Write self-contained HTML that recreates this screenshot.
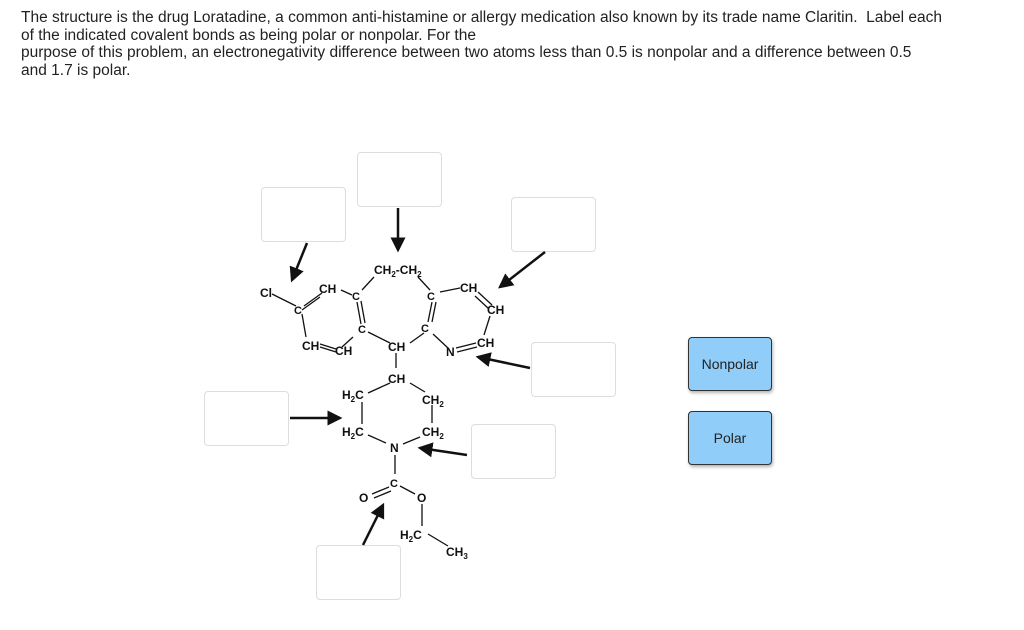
<!DOCTYPE html>
<html><head><meta charset="utf-8"><style>
body{margin:0;width:1024px;height:630px;background:#fff;position:relative;overflow:hidden;font-family:"Liberation Sans",sans-serif;}
.t{position:absolute;left:21px;top:9px;font-size:15.5px;line-height:17.5px;color:#222;white-space:nowrap;}
.b{position:absolute;width:83px;height:53px;border:1px solid #ddd;border-radius:4px;background:#fff;}
.btn{position:absolute;left:688px;width:82px;height:52px;border:1px solid #333;border-radius:4px;background:#90cdf9;font-size:14px;color:#222;display:flex;align-items:center;justify-content:center;box-shadow:1px 2px 3px rgba(0,0,0,.3);}
svg{position:absolute;left:0;top:0}
</style></head><body>
<div class="t">The structure is the drug Loratadine, a common anti-histamine or allergy medication also known by its trade name Claritin.&nbsp; Label each<br>of the indicated covalent bonds as being polar or nonpolar. For the<br>purpose of this problem, an electronegativity difference between two atoms less than 0.5 is nonpolar and a difference between 0.5<br>and 1.7 is polar.</div>
<div class="b" style="left:261px;top:187px"></div>
<div class="b" style="left:357px;top:152px"></div>
<div class="b" style="left:511px;top:197px"></div>
<div class="b" style="left:531px;top:342px"></div>
<div class="b" style="left:204px;top:391px"></div>
<div class="b" style="left:471px;top:424px"></div>
<div class="b" style="left:316px;top:545px"></div>
<div class="btn" style="top:337px">Nonpolar</div>
<div class="btn" style="top:411px">Polar</div>
<svg width="1024" height="630" font-family="Liberation Sans,sans-serif" font-size="12" font-weight="bold">
<defs><marker id="a" markerWidth="6" markerHeight="6" refX="5" refY="3" orient="auto"><path d="M0,0L6,3L0,6z" fill="#111"/></marker></defs>
<g stroke="#111" stroke-width="2.5" marker-end="url(#a)">
<line x1="307" y1="243" x2="292" y2="280"/>
<line x1="398" y1="208" x2="398" y2="250"/>
<line x1="545" y1="252" x2="500" y2="287"/>
<line x1="530" y1="368" x2="478" y2="357"/>
<line x1="290" y1="418" x2="340" y2="418"/>
<line x1="467" y1="455" x2="420" y2="448"/>
<line x1="363" y1="545" x2="383" y2="505"/>
</g>
<g stroke="#111" stroke-width="1.3" fill="none">
<line x1="272" y1="294" x2="296" y2="306"/>
<line x1="304" y1="306" x2="322" y2="293"/><line x1="302" y1="310" x2="320" y2="297"/>
<line x1="341" y1="290" x2="352" y2="295"/>
<line x1="362" y1="290" x2="374" y2="277"/>
<line x1="418" y1="277" x2="430" y2="290"/>
<line x1="440" y1="292" x2="460" y2="288"/>
<line x1="478" y1="292" x2="492" y2="305"/><line x1="475" y1="296" x2="489" y2="309"/>
<line x1="490" y1="316" x2="484" y2="335"/>
<line x1="357" y1="302" x2="361" y2="324"/><line x1="361" y1="301" x2="365" y2="323"/>
<line x1="432" y1="302" x2="428" y2="322"/><line x1="436" y1="302" x2="432" y2="322"/>
<line x1="302" y1="314" x2="306" y2="337"/>
<line x1="368" y1="332" x2="390" y2="343"/>
<line x1="410" y1="343" x2="424" y2="333"/>
<line x1="433" y1="334" x2="448" y2="348"/>
<line x1="456" y1="348" x2="476" y2="343"/><line x1="457" y1="352" x2="477" y2="347"/>
<line x1="353" y1="337" x2="342" y2="347"/>
<line x1="320" y1="344" x2="336" y2="349"/><line x1="320" y1="347" x2="336" y2="352"/>
<line x1="396" y1="353" x2="396" y2="368"/>
<line x1="390" y1="383" x2="368" y2="393"/>
<line x1="410" y1="383" x2="425" y2="392"/>
<line x1="362" y1="402" x2="362" y2="424"/>
<line x1="432" y1="405" x2="432" y2="423"/>
<line x1="368" y1="435" x2="386" y2="443"/>
<line x1="420" y1="437" x2="403" y2="444"/>
<line x1="395" y1="455" x2="395" y2="474"/>
<line x1="372" y1="494" x2="389" y2="487"/><line x1="374" y1="498" x2="391" y2="491"/>
<line x1="400" y1="486" x2="415" y2="494"/>
<line x1="422" y1="504" x2="422" y2="526"/>
<line x1="428" y1="534" x2="448" y2="546"/>
</g>
<g fill="#111">
<text x="260" y="297">Cl</text>
<text x="294" y="314" font-size="11">C</text>
<text x="319" y="293">CH</text>
<text x="352" y="300" font-size="11">C</text>
<text x="374" y="274">CH<tspan font-size="8" dy="3">2</tspan><tspan dy="-3">-CH</tspan><tspan font-size="8" dy="3">2</tspan></text>
<text x="427" y="300" font-size="11">C</text>
<text x="460" y="292">CH</text>
<text x="487" y="314">CH</text>
<text x="358" y="333" font-size="11">C</text>
<text x="421" y="332" font-size="11">C</text>
<text x="302" y="350">CH</text><text x="335" y="355">CH</text>
<text x="388" y="351">CH</text>
<text x="446" y="356">N</text>
<text x="477" y="347">CH</text>
<text x="388" y="383">CH</text>
<text x="342" y="399">H<tspan font-size="8" dy="3">2</tspan><tspan dy="-3">C</tspan></text>
<text x="422" y="404">CH<tspan font-size="8" dy="3">2</tspan></text>
<text x="342" y="436">H<tspan font-size="8" dy="3">2</tspan><tspan dy="-3">C</tspan></text>
<text x="422" y="436">CH<tspan font-size="8" dy="3">2</tspan></text>
<text x="390" y="452">N</text>
<text x="390" y="487" font-size="11">C</text>
<text x="359" y="502">O</text>
<text x="417" y="502">O</text>
<text x="400" y="539">H<tspan font-size="8" dy="3">2</tspan><tspan dy="-3">C</tspan></text>
<text x="446" y="556">CH<tspan font-size="8" dy="3">3</tspan></text>
</g>
</svg>
</body></html>
